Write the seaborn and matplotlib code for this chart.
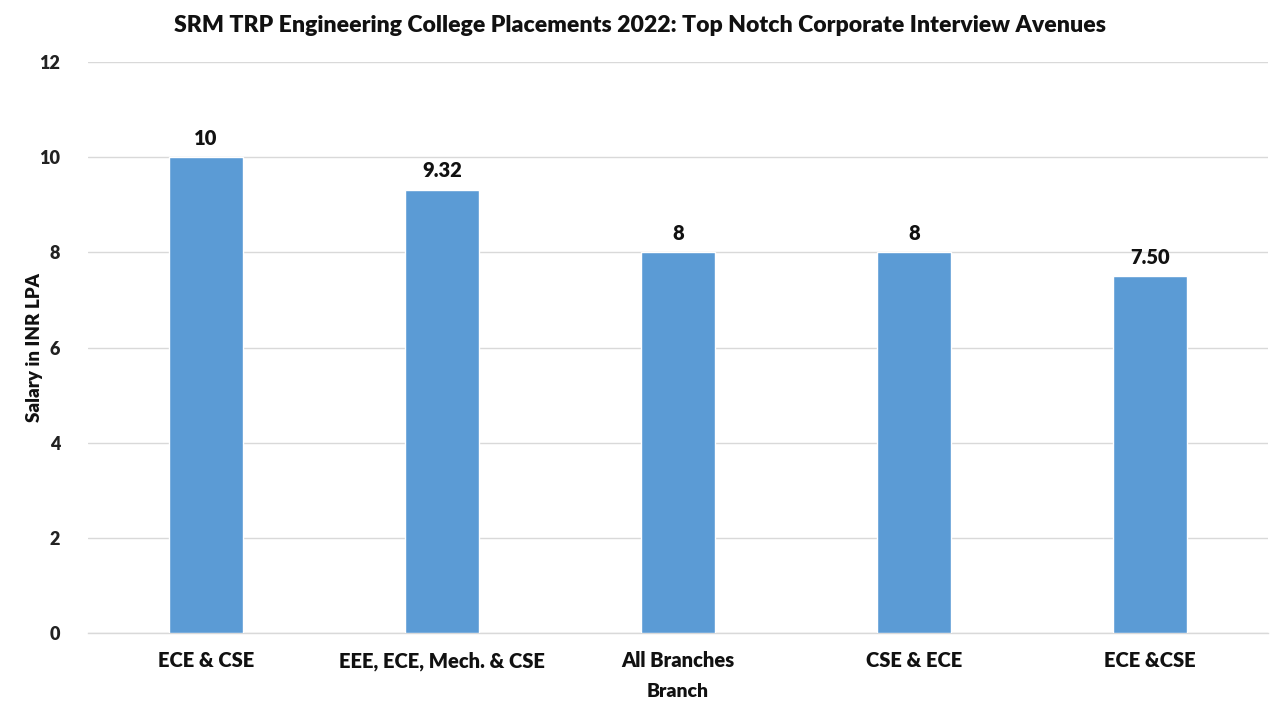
import matplotlib
matplotlib.use("Agg")
import matplotlib.pyplot as plt
import seaborn as sns
import pandas as pd

categories = ["ECE & CSE", "EEE, ECE, Mech. & CSE", "All Branches", "CSE & ECE", "ECE &CSE"]
salaries = [10, 9.32, 8, 8, 7.5]
value_labels = ["10", "9.32", "8", "8", "7.50"]
yticks = [0, 2, 4, 6, 8, 10, 12]

sns.set_theme(style="white")
plt.rcParams['font.family'] = ['Lato', 'DejaVu Sans']
W = "heavy"

df = pd.DataFrame({"Branch": categories, "Salary": salaries})

fig = plt.figure(figsize=(12.8, 7.2), dpi=100)
ax = fig.add_axes([0.06875, 0.1208, 0.9219, 0.7931])

sns.barplot(data=df, x="Branch", y="Salary", color="#5B9BD5", width=0.315,
            saturation=1, ax=ax, zorder=3)

ax.set_ylim(0, 12)
ax.set_yticks(yticks)
ax.set_yticklabels([str(t) for t in yticks], fontsize=13, color="#222222")
ax.set_xlim(-0.5, len(categories) - 0.5)
ax.tick_params(axis="x", labelsize=14.5, colors="#111111", length=0, pad=13)
ax.tick_params(axis="y", length=0, pad=20)
for lab in ax.get_xticklabels() + ax.get_yticklabels():
    lab.set_fontweight(W)

ax.grid(axis="y", color="#D9D9D9", linewidth=1, zorder=0)
for s in ["top", "right", "left"]:
    ax.spines[s].set_visible(False)
ax.spines["bottom"].set_color("#D9D9D9")
ax.spines["bottom"].set_linewidth(1)

for p, lab in zip(ax.patches, value_labels):
    ax.text(p.get_x() + p.get_width() / 2, p.get_height() + 0.2, lab,
            ha="center", va="bottom", fontsize=14.5, fontweight=W, color="#111111")

ax.set_xlabel("Branch", fontsize=14, fontweight=W, color="#111111", labelpad=9)
ax.set_ylabel("Salary in INR LPA", fontsize=13.5, fontweight=W, color="#111111")
ax.yaxis.set_label_coords(-0.038, 0.5)
fig.text(0.5, 0.964, "SRM TRP Engineering College Placements 2022: Top Notch Corporate Interview Avenues",
         ha="center", va="center", fontsize=16.6, fontweight=W, color="#111111")

fig.savefig("out.png", dpi=100, facecolor="white")
